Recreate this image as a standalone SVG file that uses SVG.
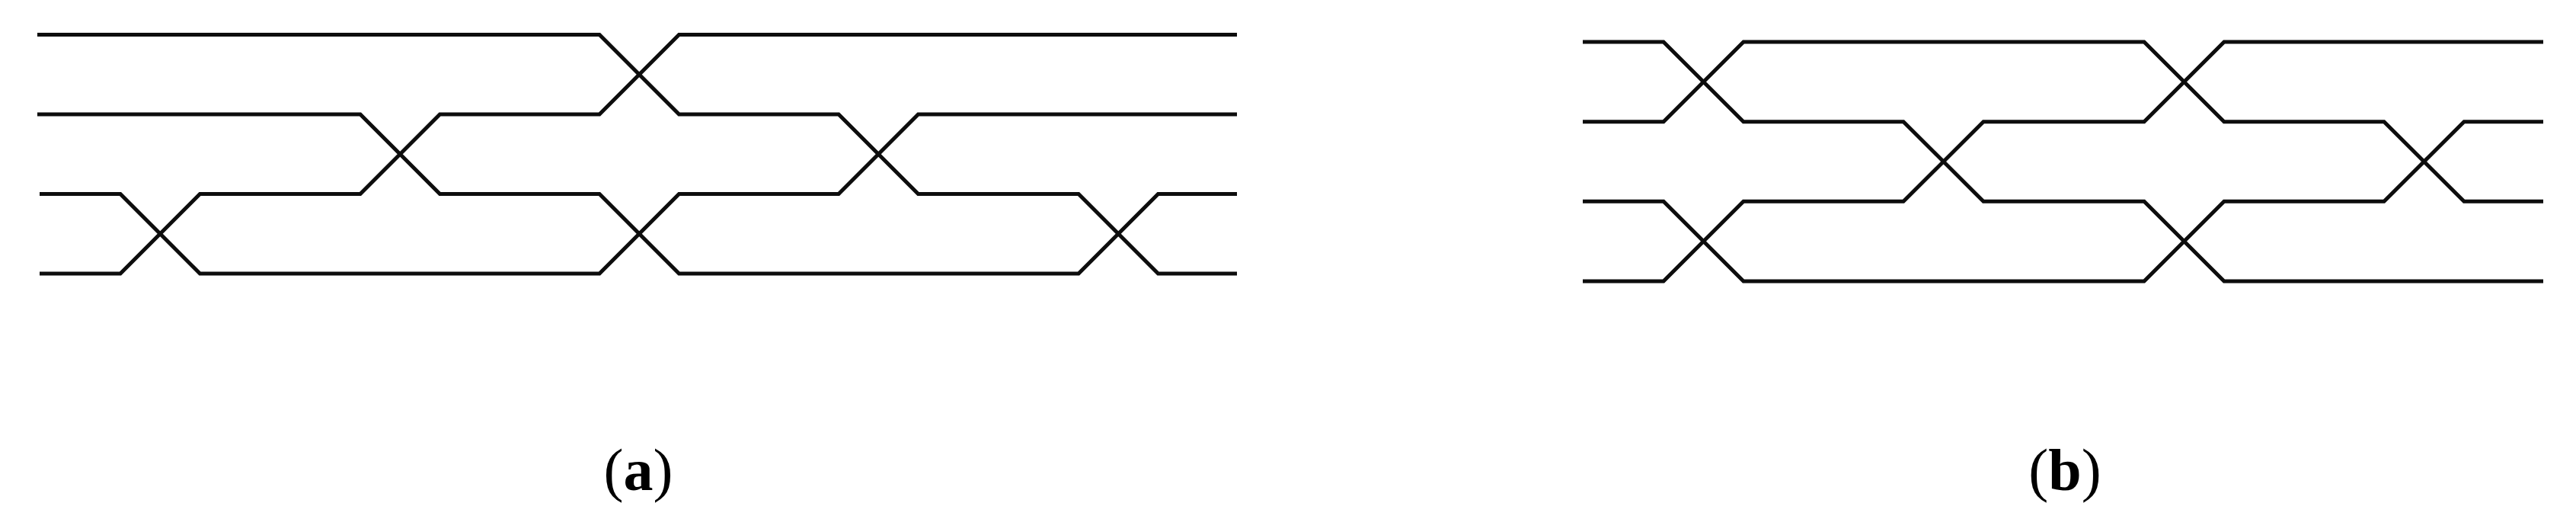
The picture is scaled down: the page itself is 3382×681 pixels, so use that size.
<svg xmlns="http://www.w3.org/2000/svg" width="3382" height="681" viewBox="0 0 3382 681">
<style>
.w{fill:none;stroke:#0d0d0d;stroke-width:5;stroke-linejoin:miter;stroke-linecap:butt}
.lbl{font-family:"Liberation Serif","Times New Roman",serif;font-size:78px;fill:#000;text-anchor:middle}
.b{font-weight:bold}
</style>
<rect width="3382" height="681" fill="#fff"/>
<g id="diagram-a">
<path class="w" d="M49 45.5 H787 L891.5 150 H1101 L1205.5 254.5 H1416 L1520.5 359 H1624"/>
<path class="w" d="M49 150 H473 L577.5 254.5 H787 L891.5 359 H1416 L1520.5 254.5 H1624"/>
<path class="w" d="M52 254.5 H158 L262.5 359 H787 L891.5 254.5 H1101 L1205.5 150 H1624"/>
<path class="w" d="M52 359 H158 L262.5 254.5 H473 L577.5 150 H787 L891.5 45.5 H1624"/>
</g>
<g id="diagram-b">
<path class="w" d="M2078 55 H2184 L2289 159.7 H2499 L2604 264.3 H2815 L2920 369 H3339"/>
<path class="w" d="M2078 159.7 H2184 L2289 55 H2815 L2920 159.7 H3130 L3235 264.3 H3339"/>
<path class="w" d="M2078 264.3 H2184 L2289 369 H2815 L2920 264.3 H3130 L3235 159.7 H3339"/>
<path class="w" d="M2078 369 H2184 L2289 264.3 H2499 L2604 159.7 H2815 L2920 55 H3339"/>
</g>
<text class="lbl" x="838" y="643">(<tspan class="b">a</tspan>)</text>
<text class="lbl" x="2711" y="643">(<tspan class="b">b</tspan>)</text>
</svg>
